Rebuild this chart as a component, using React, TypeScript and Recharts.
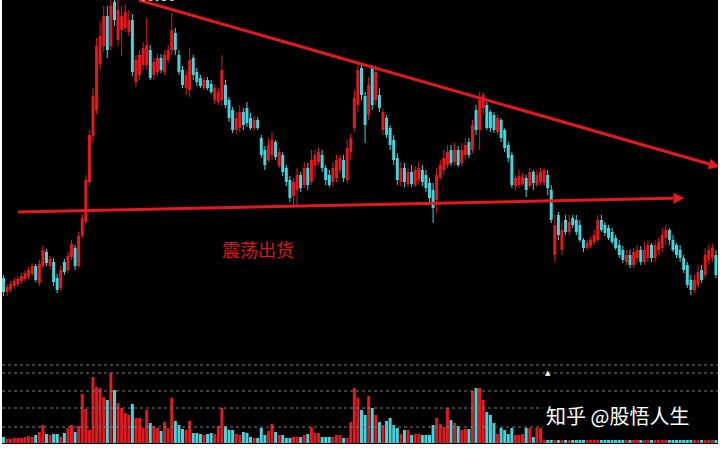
import React from 'react';
import { ComposedChart, Bar, XAxis, YAxis, ReferenceLine, Cell } from 'recharts';

// Daily candles (price in yuan)
const OPEN = [
  12.2, 10.8, 11.1, 11.4, 11.6, 11.9, 12.1, 12.4, 12.6, 13.4,
  11.7, 13.4, 14.8, 13.4, 13.8, 12.2, 11.2, 13.8, 13.0, 14.3,
  15.2, 13.4, 16.4, 17.8, 21.8, 26.4, 29.0, 33.6, 35.4, 38.4,
  35.4, 39.8, 36.0, 37.0, 37.2, 36.8, 38.0, 31.8, 32.5, 33.5,
  33.5, 35.0, 32.5, 32.8, 34.2, 32.8, 34.0, 35.0, 36.7, 34.5,
  33.0, 31.2, 31.0, 34.2, 32.8, 32.2, 31.2, 32.0, 31.6, 30.0,
  29.8, 30.0, 31.5, 30.0, 29.0, 27.0, 27.2, 28.8, 29.2, 28.2,
  27.2, 28.0, 26.2, 25.0, 24.0, 24.5, 25.8, 23.4, 24.5, 23.2,
  22.0, 20.4, 21.0, 22.5, 21.5, 23.2, 21.8, 23.5, 23.8, 24.5,
  23.2, 22.5, 21.8, 22.2, 23.0, 24.0, 22.0, 24.8, 27.2, 29.5,
  33.2, 30.4, 28.5, 33.2, 30.0, 30.5, 27.0, 28.2, 27.2, 26.0,
  24.2, 21.8, 23.2, 21.6, 22.8, 21.5, 22.0, 23.0, 22.5, 21.7,
  21.0, 20.0, 22.2, 23.0, 23.5, 25.0, 23.8, 25.0, 23.7, 24.5,
  25.8, 25.0, 29.0, 27.0, 29.2, 29.5, 28.8, 28.5, 26.8, 28.0,
  27.0, 25.5, 24.5, 21.4, 21.5, 21.6, 22.2, 21.4, 22.8, 21.5,
  21.8, 21.7, 22.5, 21.0, 14.5, 18.5, 15.0, 18.0, 16.8, 18.2,
  18.0, 17.5, 16.0, 15.2, 15.4, 15.8, 16.0, 18.0, 17.5, 17.2,
  16.8, 16.2, 15.5, 15.0, 13.8, 14.5, 13.5, 14.2, 15.0, 13.8,
  14.2, 15.5, 14.2, 15.0, 15.2, 16.2, 17.0, 16.0, 15.5, 15.0,
  14.2, 13.5, 12.0, 11.0, 11.5, 13.0, 12.5, 14.0, 14.2, 14.5,
];
const CLOSE = [
  10.8, 11.3, 11.6, 11.9, 12.1, 12.4, 12.7, 13.0, 13.4, 12.0,
  13.6, 15.0, 13.7, 14.1, 11.8, 11.0, 13.0, 12.8, 14.4, 15.6,
  13.4, 16.4, 18.2, 22.0, 26.5, 30.4, 35.4, 36.4, 38.4, 35.0,
  39.4, 38.0, 39.0, 38.4, 38.8, 38.0, 32.8, 34.0, 34.5, 35.2,
  35.5, 32.2, 33.8, 34.2, 33.0, 34.5, 35.0, 37.0, 35.0, 32.8,
  31.5, 32.5, 34.0, 32.5, 31.8, 31.4, 32.0, 31.2, 30.8, 31.2,
  30.8, 33.0, 29.5, 28.2, 27.0, 28.2, 28.8, 27.5, 27.7, 27.2,
  28.0, 27.2, 24.5, 23.5, 25.5, 26.0, 24.3, 24.8, 22.8, 21.8,
  20.2, 21.8, 22.5, 21.2, 23.2, 21.5, 24.0, 24.5, 24.8, 23.2,
  22.0, 21.5, 23.2, 24.0, 24.2, 22.2, 25.2, 26.2, 30.2, 33.0,
  30.5, 27.5, 31.5, 29.5, 32.8, 29.2, 28.8, 26.5, 25.5, 24.0,
  22.0, 23.2, 21.8, 22.8, 21.6, 23.0, 23.2, 21.8, 21.2, 20.2,
  19.2, 22.5, 23.5, 24.2, 24.8, 23.7, 25.0, 23.5, 25.0, 25.5,
  24.5, 27.5, 27.0, 30.0, 30.5, 27.2, 27.2, 27.0, 28.2, 26.2,
  25.2, 24.2, 21.5, 22.2, 22.4, 22.3, 21.0, 22.8, 21.7, 22.5,
  22.8, 23.0, 21.2, 18.0, 17.5, 16.5, 17.0, 16.8, 17.8, 17.5,
  16.8, 16.0, 15.2, 15.7, 16.0, 16.5, 18.0, 17.0, 16.7, 16.2,
  15.8, 15.2, 14.5, 14.0, 14.5, 13.5, 14.8, 15.0, 13.8, 15.0,
  15.5, 14.2, 15.5, 15.8, 16.5, 17.0, 16.0, 15.0, 14.5, 14.2,
  13.0, 11.5, 11.0, 12.0, 12.8, 12.0, 14.5, 15.0, 15.2, 12.5,
];
const HIGH = [
  12.5, 11.6, 11.9, 12.2, 12.4, 12.7, 13.0, 13.3, 13.7, 13.6,
  14.0, 15.4, 15.1, 14.4, 14.2, 12.6, 13.4, 14.1, 14.8, 16.0,
  15.5, 16.8, 18.6, 22.5, 27.0, 31.2, 36.2, 37.8, 39.4, 39.4,
  40.4, 40.6, 40.0, 39.4, 39.6, 39.0, 38.6, 34.5, 35.0, 35.8,
  38.2, 35.5, 34.2, 34.6, 34.6, 35.0, 35.5, 38.7, 37.2, 35.0,
  33.4, 33.0, 35.2, 34.5, 33.2, 32.5, 32.3, 32.3, 32.0, 31.5,
  31.2, 34.5, 32.0, 30.3, 29.3, 28.8, 29.5, 29.2, 29.8, 28.7,
  28.4, 28.3, 26.5, 25.4, 26.2, 26.8, 26.0, 25.2, 24.8, 23.5,
  22.4, 22.2, 23.2, 22.8, 23.8, 23.7, 25.0, 25.0, 25.2, 25.0,
  23.5, 23.0, 23.8, 24.5, 24.5, 24.5, 26.0, 26.6, 31.0, 33.7,
  33.5, 30.8, 32.3, 33.5, 33.5, 31.2, 29.2, 28.5, 27.5, 26.5,
  24.7, 23.8, 23.7, 23.2, 23.5, 23.4, 23.8, 23.5, 23.0, 22.2,
  21.7, 23.2, 24.0, 25.0, 25.5, 25.5, 25.7, 25.4, 25.7, 26.2,
  26.2, 28.0, 29.5, 30.8, 30.8, 29.8, 29.0, 28.8, 28.5, 28.2,
  27.2, 25.8, 24.8, 22.5, 23.0, 22.7, 22.5, 23.2, 23.0, 23.0,
  23.2, 23.2, 23.0, 21.5, 18.5, 18.8, 17.8, 18.5, 18.5, 18.5,
  18.5, 18.0, 16.2, 16.0, 16.3, 17.0, 18.5, 18.5, 17.8, 17.5,
  17.2, 16.5, 16.0, 15.4, 15.0, 15.0, 15.2, 15.5, 15.4, 15.8,
  16.0, 15.7, 16.0, 16.2, 17.2, 17.5, 17.2, 16.5, 15.7, 15.5,
  14.5, 13.8, 12.5, 12.5, 13.5, 13.5, 15.2, 15.5, 15.6, 15.0,
];
const LOW = [
  10.4, 10.4, 10.8, 11.1, 11.3, 11.6, 11.8, 12.1, 12.3, 11.8,
  11.4, 13.2, 13.4, 13.0, 11.4, 10.7, 10.9, 12.5, 12.7, 14.0,
  13.0, 13.2, 16.2, 17.5, 21.4, 25.8, 28.6, 33.0, 34.8, 34.2,
  35.0, 37.4, 35.4, 34.4, 36.8, 36.4, 32.4, 31.3, 32.0, 33.0,
  33.0, 32.0, 32.0, 32.4, 32.7, 32.5, 33.7, 34.5, 34.5, 32.5,
  31.2, 30.5, 30.3, 32.0, 31.4, 31.2, 31.0, 31.0, 30.6, 29.6,
  29.5, 29.4, 29.2, 27.8, 26.7, 26.6, 26.8, 27.0, 27.3, 27.0,
  26.9, 27.0, 24.2, 23.0, 23.8, 24.0, 24.0, 23.2, 22.4, 21.4,
  19.8, 19.5, 19.4, 20.8, 21.2, 21.0, 21.5, 22.2, 23.5, 22.8,
  21.5, 21.3, 21.4, 21.8, 22.6, 21.8, 21.7, 24.0, 26.8, 28.8,
  30.0, 25.7, 28.0, 29.0, 29.5, 28.8, 26.5, 26.2, 25.0, 23.5,
  21.5, 21.4, 21.3, 21.3, 21.3, 21.3, 21.6, 21.4, 20.8, 19.5,
  17.7, 18.7, 22.0, 22.5, 23.2, 23.4, 23.5, 23.3, 23.4, 24.0,
  24.2, 24.7, 26.5, 25.0, 28.5, 27.0, 26.8, 26.7, 26.5, 25.8,
  24.8, 23.8, 21.2, 21.0, 21.2, 21.4, 20.3, 21.2, 21.0, 21.3,
  21.5, 21.4, 20.5, 17.7, 13.8, 16.0, 14.5, 16.5, 16.5, 17.2,
  16.5, 15.8, 14.8, 15.0, 15.2, 15.5, 15.8, 16.8, 16.4, 16.0,
  15.6, 15.0, 14.2, 13.7, 13.5, 13.2, 13.2, 13.8, 13.5, 13.5,
  13.8, 13.8, 13.8, 14.5, 14.8, 15.5, 15.5, 14.8, 14.2, 13.8,
  12.7, 11.2, 10.5, 10.7, 11.2, 11.7, 12.2, 13.5, 13.8, 12.2,
];
// Volume (10k lots)
const VOLUME = [
  6, 4, 4, 5, 5, 5, 6, 7, 6, 8,
  11, 18, 9, 8, 9, 9, 6, 10, 15, 18,
  11, 17, 49, 34, 13, 66, 56, 55, 46, 43,
  70, 53, 40, 35, 30, 28, 39, 25, 25, 15,
  33, 20, 17, 15, 12, 21, 15, 45, 22, 18,
  14, 13, 22, 10, 10, 9, 8, 9, 10, 9,
  17, 35, 17, 13, 13, 9, 8, 11, 10, 6,
  5, 5, 15, 8, 12, 19, 11, 8, 8, 5,
  5, 6, 6, 6, 8, 9, 16, 10, 10, 6,
  6, 6, 6, 8, 8, 5, 5, 21, 55, 45,
  33, 28, 47, 35, 28, 21, 18, 22, 25, 18,
  15, 9, 13, 13, 8, 9, 9, 8, 8, 8,
  18, 25, 19, 16, 35, 23, 20, 17, 13, 14,
  14, 52, 55, 55, 43, 31, 28, 20, 9, 15,
  13, 9, 15, 8, 8, 9, 15, 15, 6, 15,
  15, 12, 14, 20, 18, 12, 10, 8, 7, 9,
  8, 10, 7, 6, 7, 12, 9, 8, 6, 7,
  8, 9, 7, 9, 8, 7, 10, 8, 6, 9,
  9, 7, 8, 7, 11, 9, 8, 7, 8, 9,
  10, 12, 9, 8, 10, 9, 12, 8, 9, 11,
];
const VOLUME_LEVELS = [78, 70, 52, 35, 16];
// Hand-drawn trend lines: [candle index, price]
const RESISTANCE = [{ i: 38, p: 40.0 }, { i: 199.5, p: 23.3 }];
const SUPPORT = [{ i: 4.5, p: 18.8 }, { i: 189.7, p: 20.2 }];
const ANNOTATION = '震荡出货';
const WATERMARK = '知乎 @股悟人生';
const MAX_LABEL = '40.60';

const RED = '#e3191f';
const CYAN = '#45d3dc';
const W = 716;

const data = OPEN.map((o, i) => ({
  i,
  open: o,
  close: CLOSE[i],
  high: HIGH[i],
  low: LOW[i],
  range: [LOW[i], HIGH[i]],
  vol: VOLUME[i],
  up: CLOSE[i] >= o,
}));

const Candle = (props: any) => {
  const { x, y, width, height, payload } = props;
  if (!payload) return null;
  const { open, close, high, low } = payload;
  const top = Math.min(y, y + height);
  const h = Math.abs(height);
  const span = high - low || 1;
  const py = (v: number) => top + ((high - v) / span) * h;
  const color = close >= open ? RED : CYAN;
  const cx = x + width / 2;
  const bTop = py(Math.max(open, close));
  const bBot = py(Math.min(open, close));
  return (
    <g>
      <line x1={cx} x2={cx} y1={top} y2={top + h} stroke={color} strokeWidth={1} />
      <rect x={x} y={bTop} width={width} height={Math.max(1, bBot - bTop)} fill={color} />
    </g>
  );
};

const ArrowLine = (props: any) => {
  const { x1, y1, x2, y2 } = props;
  if ([x1, y1, x2, y2].some((v) => v == null || isNaN(v))) return null;
  const ang = Math.atan2(y2 - y1, x2 - x1);
  const L = 11;
  const HW = 5.5;
  const bx = x2 - L * Math.cos(ang);
  const by = y2 - L * Math.sin(ang);
  const px = -Math.sin(ang) * HW;
  const py = Math.cos(ang) * HW;
  return (
    <g>
      <line x1={x1} y1={y1} x2={bx} y2={by} stroke={RED} strokeWidth={3} />
      <polygon points={`${x2},${y2} ${bx + px},${by + py} ${bx - px},${by - py}`} fill={RED} />
    </g>
  );
};

export default function App() {
  return (
    <div style={{ position: 'absolute', left: 0, top: 0, width: 723, height: 449, background: '#fff', overflow: 'hidden' }}>
      <div style={{ position: 'absolute', left: 2, top: 0, width: W, height: 444, background: '#000', overflow: 'hidden' }}>
        <div style={{ position: 'absolute', left: 0, top: 0 }}>
          <ComposedChart width={W} height={300} data={data} margin={{ top: 0, right: 0, bottom: 0, left: 0 }}>
            <XAxis xAxisId="cat" dataKey="i" type="category" hide />
            <XAxis xAxisId="num" type="number" domain={[-0.5, 199.5]} hide allowDataOverflow />
            <YAxis domain={[10, 40]} hide allowDataOverflow />
            <Bar xAxisId="cat" dataKey="range" barSize={3} shape={<Candle />} isAnimationActive={false} />
            <ReferenceLine
              xAxisId="num"
              segment={[{ x: RESISTANCE[0].i, y: RESISTANCE[0].p }, { x: RESISTANCE[1].i, y: RESISTANCE[1].p }]}
              ifOverflow="visible"
              shape={(p: any) => <ArrowLine {...p} />}
            />
            <ReferenceLine
              xAxisId="num"
              segment={[{ x: SUPPORT[0].i, y: SUPPORT[0].p }, { x: SUPPORT[1].i, y: SUPPORT[1].p }]}
              ifOverflow="visible"
              shape={(p: any) => <ArrowLine {...p} />}
            />
          </ComposedChart>
        </div>
        <div style={{ position: 'absolute', left: 0, top: 343 }}>
          <ComposedChart width={W} height={100} data={data} margin={{ top: 0, right: 0, bottom: 0, left: 0 }}>
            <XAxis dataKey="i" type="category" hide />
            <YAxis domain={[0, 100]} hide allowDataOverflow />
            {VOLUME_LEVELS.map((v) => (
              <ReferenceLine key={v} y={v} stroke="#7c7c7c" strokeDasharray="3 3" strokeWidth={1} />
            ))}
            <Bar dataKey="vol" barSize={3} isAnimationActive={false}>
              {data.map((d) => (
                <Cell key={d.i} fill={d.up ? RED : CYAN} />
              ))}
            </Bar>
          </ComposedChart>
        </div>
        <div style={{ position: 'absolute', left: 136, top: -9, color: '#e0e0e0', fontFamily: 'DejaVu Sans, sans-serif', fontSize: 12, lineHeight: '12px', fontWeight: 'bold' }}>
          {MAX_LABEL}
        </div>
        <div style={{ position: 'absolute', left: 220, top: 239, color: '#d8171c', fontFamily: '"Noto Sans CJK SC", sans-serif', fontSize: 18, lineHeight: '20px', whiteSpace: 'nowrap' }}>
          {ANNOTATION}
        </div>
        <div style={{ position: 'absolute', left: 543, top: 369, color: '#fff', fontSize: 7, lineHeight: '8px', fontFamily: 'DejaVu Sans, sans-serif' }}>▲</div>
        <div style={{ position: 'absolute', left: 541, top: 396, width: 175, height: 44, background: '#000' }} />
        <div style={{ position: 'absolute', left: 544, top: 403, color: '#fff', fontFamily: '"Noto Sans CJK SC", sans-serif', fontSize: 20, lineHeight: '26px', whiteSpace: 'nowrap' }}>
          {WATERMARK}
        </div>
      </div>
    </div>
  );
}
